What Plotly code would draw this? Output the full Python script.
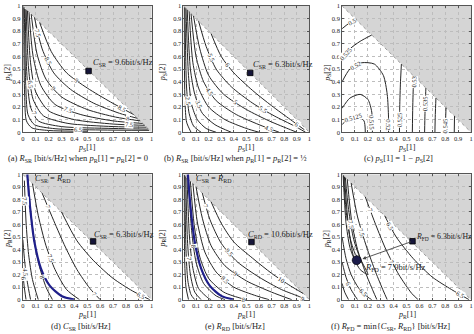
import math
import plotly.graph_objects as go

W, H = 474, 334

# ---------------- data: contour polylines ----------------
curves_a = [
    [(0.13,0.87),(0.22,0.64),(0.34,0.47),(0.5,0.35),(0.68,0.24),(0.86,0.14)],
    [(0.09,0.91),(0.15,0.66),(0.24,0.47),(0.37,0.34),(0.55,0.23),(0.75,0.15),(0.89,0.11)],
    [(0.065,0.935),(0.11,0.62),(0.18,0.42),(0.3,0.28),(0.5,0.18),(0.72,0.12),(0.91,0.09)],
    [(0.048,0.95),(0.08,0.6),(0.14,0.37),(0.25,0.22),(0.45,0.14),(0.7,0.09),(0.93,0.07)],
    [(0.036,0.96),(0.06,0.55),(0.1,0.32),(0.2,0.17),(0.4,0.1),(0.7,0.065),(0.945,0.055)],
    [(0.026,0.97),(0.045,0.5),(0.08,0.26),(0.16,0.13),(0.35,0.07),(0.7,0.045),(0.96,0.04)],
    [(0.018,0.975),(0.032,0.45),(0.06,0.2),(0.12,0.09),(0.3,0.045),(0.7,0.03),(0.97,0.025)],
    [(0.012,0.98),(0.022,0.4),(0.04,0.14),(0.09,0.06),(0.25,0.028),(0.6,0.018),(0.98,0.015)],
    [(0.007,0.99),(0.014,0.3),(0.028,0.09),(0.07,0.035),(0.2,0.014),(0.5,0.008)],
]
labels_a = [(0,2,"9"),(1,1,"8.5"),(0,4,"8.5"),(2,2,"9"),(3,3,"7.5"),(2,5,"8"),
            (4,5,"7.5"),(5,1,"6.5"),(6,2,"7"),(7,4,"6.5"),(1,0,"7.5")]

curves_b = [
    [(0.22,0.78),(0.3,0.6),(0.4,0.47),(0.55,0.33),(0.7,0.21),(0.85,0.1),(0.96,0.02)],
    [(0.12,0.88),(0.18,0.68),(0.26,0.5),(0.38,0.36),(0.55,0.23),(0.72,0.13),(0.88,0.05),(0.97,0.0)],
    [(0.08,0.92),(0.13,0.66),(0.2,0.45),(0.32,0.3),(0.5,0.18),(0.68,0.09),(0.85,0.02),(0.9,0.0)],
    [(0.06,0.94),(0.1,0.6),(0.16,0.4),(0.26,0.25),(0.42,0.14),(0.6,0.06),(0.76,0.0)],
    [(0.045,0.955),(0.075,0.55),(0.12,0.35),(0.2,0.2),(0.33,0.1),(0.5,0.03),(0.6,0.0)],
    [(0.03,0.97),(0.055,0.5),(0.09,0.3),(0.15,0.15),(0.25,0.06),(0.38,0.0)],
    [(0.02,0.98),(0.04,0.45),(0.065,0.22),(0.11,0.1),(0.18,0.03),(0.26,0.0)],
    [(0.012,0.985),(0.025,0.35),(0.045,0.15),(0.08,0.05),(0.14,0.0)],
    [(0.006,0.99),(0.012,0.25),(0.025,0.08),(0.06,0.0)],
]
labels_b = [(0,1,"6"),(1,1,"5.5"),(1,4,"5.5"),(2,3,"5"),(3,2,"4.5"),(3,5,"4.5"),
            (5,2,"3.5"),(0,5,"6"),(7,1,"2.5")]

curves_c = [
    [(0.0,0.82),(0.05,0.86),(0.11,0.89)],
    [(0.0,0.59),(0.06,0.66),(0.14,0.72),(0.23,0.77)],
    [(0.0,0.4),(0.06,0.5),(0.15,0.55),(0.25,0.54),(0.32,0.45),(0.35,0.3),(0.36,0.12),(0.36,0.0)],
    [(0.0,0.19),(0.06,0.27),(0.14,0.3),(0.2,0.26),(0.23,0.16),(0.235,0.0)],
    [(0.0,0.06),(0.05,0.11),(0.12,0.13),(0.17,0.09),(0.18,0.0)],
    [(0.445,0.0),(0.447,0.2),(0.453,0.4),(0.46,0.54)],
    [(0.545,0.0),(0.548,0.2),(0.552,0.35),(0.555,0.445)],
    [(0.64,0.0),(0.643,0.15),(0.648,0.3),(0.65,0.35)],
    [(0.72,0.0),(0.723,0.14),(0.728,0.272)],
    [(0.8,0.0),(0.803,0.1),(0.806,0.194)],
    [(0.87,0.0),(0.872,0.128)],
]
labels_c = [(0,1,"0.5"),(1,0,"0.525"),(2,1,"0.52"),(3,4,"0.515"),(4,1,"0.5125"),
            (2,6,"0.52"),(5,0,"0.525"),(6,2,"0.53"),(7,1,"0.535"),(9,0,"0.545")]

curves_d = [
    [(0.3,0.7),(0.42,0.47),(0.55,0.31),(0.7,0.17),(0.85,0.07),(0.985,0.0)],
    [(0.15,0.85),(0.24,0.63),(0.33,0.42),(0.42,0.24),(0.52,0.09),(0.6,0.0)],
    [(0.075,0.925),(0.12,0.67),(0.18,0.43),(0.25,0.24),(0.34,0.08),(0.44,0.0)],
    [(0.04,0.96),(0.06,0.72),(0.09,0.46),(0.13,0.26),(0.18,0.1),(0.23,0.0)],
    [(0.012,0.95),(0.025,0.62),(0.045,0.36),(0.075,0.16),(0.12,0.0)],
    [(0.0,0.48),(0.015,0.3),(0.035,0.14),(0.06,0.0)],
    [(0.0,0.22),(0.01,0.11),(0.025,0.0)],
]
labels_d = [(0,4,"6.5"),(1,0,"7"),(1,4,"7"),(2,2,"7.5"),(3,3,"8"),(4,0,"7.5"),
            (5,1,"4.5"),(6,0,"6")]

curves_e = [
    [(0.22,0.78),(0.3,0.61),(0.4,0.46),(0.55,0.33),(0.7,0.21),(0.85,0.11),(0.95,0.05)],
    [(0.15,0.85),(0.21,0.64),(0.3,0.45),(0.43,0.3),(0.6,0.18),(0.78,0.08),(0.93,0.02),(0.96,0.0)],
    [(0.1,0.9),(0.15,0.65),(0.22,0.43),(0.33,0.27),(0.5,0.15),(0.7,0.06),(0.86,0.0)],
    [(0.075,0.925),(0.11,0.62),(0.17,0.38),(0.26,0.22),(0.4,0.1),(0.58,0.03),(0.68,0.0)],
    [(0.055,0.945),(0.085,0.6),(0.13,0.34),(0.2,0.17),(0.32,0.06),(0.46,0.01),(0.5,0.0)],
    [(0.04,0.96),(0.065,0.55),(0.1,0.3),(0.16,0.13),(0.26,0.03),(0.33,0.0)],
    [(0.028,0.972),(0.048,0.5),(0.075,0.25),(0.12,0.09),(0.2,0.01),(0.22,0.0)],
    [(0.018,0.982),(0.033,0.45),(0.055,0.2),(0.09,0.06),(0.14,0.0)],
    [(0.01,0.99),(0.02,0.4),(0.035,0.15),(0.06,0.04),(0.09,0.0)],
    [(0.005,0.995),(0.01,0.3),(0.02,0.1),(0.04,0.0)],
]
labels_e = [(0,4,"10"),(1,2,"9.5"),(2,3,"9"),(3,3,"8.5"),(1,0,"7"),(1,6,"9"),
            (4,5,"8"),(5,1,"8"),(7,1,"7")]

curves_f = [
    [(0.33,0.67),(0.42,0.5),(0.55,0.33),(0.7,0.18),(0.85,0.08),(0.985,0.0)],
    [(0.18,0.82),(0.26,0.6),(0.34,0.4),(0.44,0.2),(0.54,0.05),(0.59,0.0)],
    [(0.07,0.93),(0.12,0.66),(0.19,0.42),(0.26,0.22),(0.32,0.07),(0.35,0.0)],
    [(0.04,0.96),(0.075,0.62),(0.12,0.4),(0.18,0.22),(0.24,0.07),(0.27,0.0)],
    [(0.025,0.975),(0.05,0.72),(0.09,0.48),(0.14,0.33),(0.2,0.2),(0.14,0.24),(0.09,0.34),(0.05,0.58),(0.018,0.98)],
    [(0.012,0.99),(0.03,0.72),(0.06,0.5),(0.1,0.37),(0.15,0.3),(0.1,0.32),(0.06,0.42),(0.03,0.62),(0.008,0.99)],
    [(0.0,0.5),(0.03,0.33),(0.07,0.2),(0.13,0.09),(0.2,0.02),(0.23,0.0)],
    [(0.0,0.3),(0.03,0.18),(0.07,0.08),(0.12,0.0)],
    [(0.0,0.13),(0.02,0.06),(0.05,0.0)],
]
labels_f = [(0,0,"6.5"),(0,4,"6.5"),(1,0,"7"),(1,2,"7"),(2,1,"7.5"),(4,1,"7.5"),
            (6,3,"6.5"),(7,1,"6")]

# C_SR = R_RD boundary (blue)
blue_x = [0.035, 0.055, 0.09, 0.14, 0.21, 0.3, 0.4]
blue_y = [1.0, 0.75, 0.46, 0.25, 0.11, 0.03, 0.0]

# optimum / corner points
square_pts = {"a": (0.51, 0.485), "b": (0.53, 0.47), "d": (0.545, 0.465),
              "e": (0.54, 0.46), "f": (0.546, 0.466)}
opt_f = (0.113, 0.315)

tick_vals = [0, 0.1, 0.2, 0.3, 0.4, 0.5, 0.6, 0.7, 0.8, 0.9, 1]
tick_text = ["0", "0.1", "0.2", "0.3", "0.4", "0.5", "0.6", "0.7", "0.8", "0.9", "1"]

captions = {
    "a": "(a) <i>R</i><sub>SR</sub> [bit/s/Hz] when <i>p</i><sub>R</sub>[1] = <i>p</i><sub>R</sub>[2] = 0",
    "b": "(b) <i>R</i><sub>SR</sub> [bit/s/Hz] when <i>p</i><sub>R</sub>[1] = <i>p</i><sub>R</sub>[2] = ½",
    "c": "(c) <i>p</i><sub>S</sub>[1] = 1 − <i>p</i><sub>S</sub>[2]",
    "d": "(d) <i>C</i><sub>SR</sub> [bit/s/Hz]",
    "e": "(e) <i>R</i><sub>RD</sub> [bit/s/Hz]",
    "f": "(f) <i>R</i><sub>FD</sub> = min{<i>C</i><sub>SR</sub>, <i>R</i><sub>RD</sub>} [bit/s/Hz]",
}

# ---------------- layout geometry (pixels) ----------------
boxes = {  # left, right, top, bottom
    "a": (21, 151, 2, 131), "b": (183, 310, 2, 131), "c": (343, 473, 2, 131),
    "d": (21, 151, 174, 302), "e": (183, 310, 174, 302), "f": (343, 473, 174, 302),
}
caption_cx = {"a": 77, "b": 235, "c": 400, "d": 80, "e": 235, "f": 392}
panel_data = {
    "a": (curves_a, labels_a), "b": (curves_b, labels_b), "c": (curves_c, labels_c),
    "d": (curves_d, labels_d), "e": (curves_e, labels_e), "f": (curves_f, labels_f),
}

SERIF = "Liberation Serif"
fig = go.Figure()
layout = dict(width=W, height=H, margin=dict(l=0, r=0, t=0, b=0),
              paper_bgcolor="white", plot_bgcolor="white", showlegend=False,
              font=dict(family=SERIF, color="#222"))
shapes, annotations = [], []

def px(xp):
    return xp / W

def py(yp):
    return 1 - yp / H

for i, key in enumerate(["a", "b", "c", "d", "e", "f"], start=1):
    l, r, t, b = boxes[key]
    xa, ya = ("x", "y") if i == 1 else (f"x{i}", f"y{i}")
    axcommon = dict(range=[0, 1], tickvals=tick_vals, ticktext=tick_text,
                    showgrid=True, gridcolor="#bdbdbd", griddash="dot", gridwidth=0.6,
                    zeroline=False, showline=True, linecolor="#555", linewidth=0.8,
                    mirror="ticks", ticks="inside", ticklen=2, tickcolor="#555",
                    tickfont=dict(size=6.5, family=SERIF, color="#222"), fixedrange=True)
    layout[f"xaxis{i}"] = dict(axcommon, domain=[px(l), px(r)], anchor=ya)
    layout[f"yaxis{i}"] = dict(axcommon, domain=[py(b), py(t)], anchor=xa)

    # infeasible region and its dotted boundary
    shapes.append(dict(type="path", path="M 0,1 L 1,1 L 1,0 Z", xref=xa, yref=ya,
                       fillcolor="#d5d5d5", line=dict(width=0), layer="below"))
    shapes.append(dict(type="line", x0=0, y0=1, x1=1, y1=0, xref=xa, yref=ya,
                       line=dict(color="#888", width=0.8, dash="dot"), layer="below"))

    curves, labels = panel_data[key]
    for c in curves:
        fig.add_trace(go.Scatter(x=[p[0] for p in c], y=[p[1] for p in c], mode="lines",
                                 line=dict(color="#262626", width=1, shape="spline", smoothing=0.7),
                                 xaxis=xa, yaxis=ya, hoverinfo="skip"))
    if key in ("d", "e"):
        fig.add_trace(go.Scatter(x=blue_x, y=blue_y, mode="lines",
                                 line=dict(color="#1f1f8a", width=2.2, shape="spline", smoothing=0.7),
                                 xaxis=xa, yaxis=ya, hoverinfo="skip"))
    pw, ph = r - l, b - t
    for ci, si, txt in labels:
        p0, p1 = curves[ci][si], curves[ci][si + 1]
        mx, my = (p0[0] + p1[0]) / 2, (p0[1] + p1[1]) / 2
        ang = -math.degrees(math.atan2((p1[1] - p0[1]) * ph, (p1[0] - p0[0]) * pw))
        while ang > 90:
            ang -= 180
        while ang < -90:
            ang += 180
        annotations.append(dict(x=mx, y=my, xref=xa, yref=ya, text=txt, showarrow=False,
                                xanchor="center", yanchor="middle",
                                textangle=round(ang), bgcolor="white", borderpad=0,
                                font=dict(size=6.5, family=SERIF, color="#222")))

    if key in square_pts:
        sx, sy = square_pts[key]
        fig.add_trace(go.Scatter(x=[sx], y=[sy], mode="markers",
                                 marker=dict(symbol="square", size=5.5, color="#16163a",
                                             line=dict(color="black", width=0.8)),
                                 xaxis=xa, yaxis=ya, hoverinfo="skip"))

    # axis titles & captions
    cx = px((l + r) / 2)
    sub = "S" if key in "abc" else "R"
    xt_y = 147.5 if key in "abc" else 318
    cap_y = 158 if key in "abc" else 329.5
    annotations.append(dict(x=cx, y=py(xt_y), xref="paper", yref="paper", showarrow=False,
                            xanchor="center", yanchor="middle",
                            text=f"<i>p</i><sub>{sub}</sub>[1]", font=dict(size=8, family=SERIF)))
    annotations.append(dict(x=px(caption_cx[key]), y=py(cap_y), xref="paper", yref="paper",
                            showarrow=False, xanchor="center", yanchor="middle",
                            text=captions[key], font=dict(size=8.5, family=SERIF)))
    yt_x = {"a": 6, "d": 6, "b": 162, "e": 162, "c": 328, "f": 328}[key]
    yt_y = 70 if key in "abc" else 240
    annotations.append(dict(x=px(yt_x), y=py(yt_y), xref="paper", yref="paper", showarrow=False,
                            xanchor="center", yanchor="middle",
                            text=f"<i>p</i><sub>{sub}</sub>[2]", textangle=-90,
                            font=dict(size=8, family=SERIF)))

# in-plot texts
def note(ax_i, x, y, text, size=8.5):
    xa, ya = ("x", "y") if ax_i == 1 else (f"x{ax_i}", f"y{ax_i}")
    annotations.append(dict(x=x, y=y, xref=xa, yref=ya, text=text, showarrow=False,
                            xanchor="left", yanchor="middle",
                            font=dict(size=size, family=SERIF, color="#222")))

note(1, 0.53, 0.55, "<i>C</i><sub>SR</sub> = 9.6bit/s/Hz")
note(2, 0.54, 0.54, "<i>C</i><sub>SR</sub> = 6.3bit/s/Hz")
note(4, 0.54, 0.52, "<i>C</i><sub>SR</sub> = 6.3bit/s/Hz")
note(4, 0.08, 0.965, "<i>C</i><sub>SR</sub> = <i>R</i><sub>RD</sub>")
note(5, 0.5, 0.52, "<i>C</i><sub>RD</sub> = 10.6bit/s/Hz")
note(5, 0.08, 0.965, "<i>C</i><sub>SR</sub> = <i>R</i><sub>RD</sub>")
note(6, 0.555, 0.5, "<i>R</i><sub>FD</sub> = 6.3bit/s/Hz", size=7.8)
note(6, 0.16, 0.255, "<i>R</i><sub>FD</sub> = 7.9bit/s/Hz")

# optimum in (f) with arrow
fig.add_trace(go.Scatter(x=[opt_f[0]], y=[opt_f[1]], mode="markers",
                         marker=dict(symbol="circle", size=9, color="#1b1b4a",
                                     line=dict(color="black", width=0.6)),
                         xaxis="x6", yaxis="y6", hoverinfo="skip"))
sx, sy = square_pts["f"]
annotations.append(dict(x=opt_f[0] + 0.045, y=opt_f[1] + 0.01, ax=sx, ay=sy,
                        xref="x6", yref="y6", axref="x6", ayref="y6", text="",
                        showarrow=True, arrowhead=2, arrowsize=0.8, arrowwidth=0.9,
                        arrowcolor="#444"))

layout["shapes"] = shapes
layout["annotations"] = annotations
fig.update_layout(**layout)
fig.write_html("out.html")
